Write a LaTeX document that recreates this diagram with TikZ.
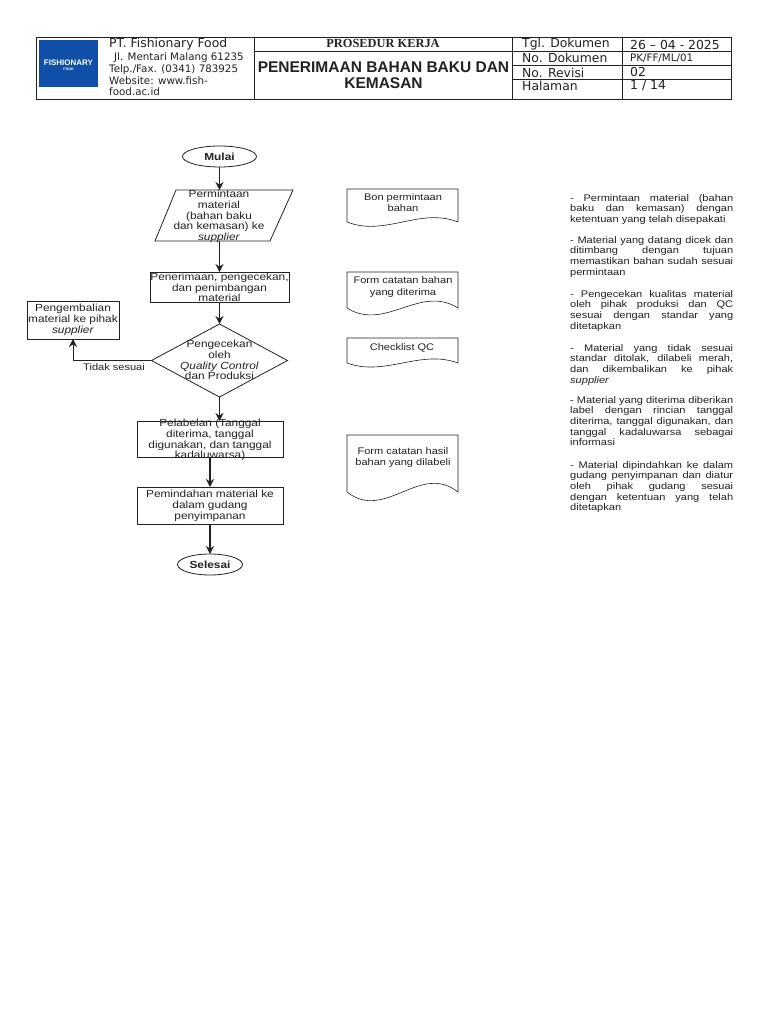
\documentclass[tikz,border=0pt]{standalone}
\usepackage{fontspec}
\usetikzlibrary{shapes.geometric,arrows.meta}
\setmainfont{Liberation Sans}
\newfontfamily\flowfam[FakeStretch=1.15]{Liberation Sans}
\newfontfamily\dejafam{DejaVu Sans}
\newfontfamily\serfam{Liberation Serif}
\newcommand\flowfont{\flowfam\fontsize{10.3}{10.7}\selectfont}
\newcommand\docfont{\flowfam\fontsize{9.6}{11.3}\selectfont}
\newcommand\sidefont{\flowfam\fontsize{9.6}{10.7}\selectfont\tolerance=10000\hbadness=10000 }
\newcommand\headA{\dejafam\fontsize{12.4}{12.4}\selectfont}
\newcommand\headB{\dejafam\fontsize{10.3}{12}\selectfont}
\definecolor{ink}{HTML}{222222}
\definecolor{logoblue}{HTML}{0F4FA8}
\tikzset{
  hline/.style={draw=ink,line width=0.8pt},
  shapebox/.style={draw=ink,line width=0.8pt,inner sep=0pt,outer sep=0pt},
  flowtext/.style={font=\flowfont,text=ink,align=center,inner sep=0pt},
  doctext/.style={font=\docfont,text=ink,align=center,inner sep=0pt},
  sidetext/.style={font=\sidefont,text=ink,align=justify,text width=163pt,inner sep=0pt,anchor=north west},
  flowarrow/.style={draw=ink,line width=0.9pt,-{Stealth[length=8pt,width=8pt]}},
  heavyarrow/.style={flowarrow,line width=1.2pt},
  docline/.style={draw=ink,line width=0.6pt},
  heada/.style={font=\headA,text=ink,inner sep=0pt,anchor=west},
  headb/.style={font=\headB,text=ink,inner sep=0pt,anchor=west},
}
\newcommand\docpath[3]{\path[docline] (347,#2) -- (347,#1) -- (458,#1) -- (458,#2)
  .. controls (420,#2-#3) and (385,#2+#3) .. (347,#2);}
\begin{document}
\begin{tikzpicture}[x=1pt,y=-1pt]
\useasboundingbox (0,0) rectangle (768,1024);
\fill[white] (0,0) rectangle (768,1024);
% header
\draw[hline] (36,37) rectangle (731,99);
\draw[hline] (254,37) -- (254,99);
\draw[hline] (512,37) -- (512,99);
\draw[hline] (622,37) -- (622,99);
\draw[hline] (254,51) -- (512,51);
\draw[hline] (512,51) -- (731,51);
\draw[hline] (512,65) -- (731,65);
\draw[hline] (512,79) -- (731,79);
\node[fill=logoblue,minimum width=59pt,minimum height=47pt,inner sep=0pt] (logo) at (68.5,63.5) {};
\node[font=\fontsize{8}{8}\selectfont\bfseries,text=white,inner sep=0pt] (logoa) at (68.5,63) {FISHIONARY};
\node[font=\fontsize{3.5}{4}\selectfont\bfseries,text=white,inner sep=0pt] (logob) at (68.5,69.5) {FOOD};
\node[heada] (co) at (109,44.5) {PT. Fishionary Food};
\node[headb] (addr) at (114,57.5) {Jl. Mentari Malang 61235};
\node[headb] (tel) at (109,69.5) {Telp./Fax. (0341) 783925};
\node[headb] (web) at (109,81) {Website: www.fish-};
\node[headb] (web2) at (109,92) {food.ac.id};
\node[font=\serfam\fontsize{12.4}{13}\selectfont\bfseries,text=ink,inner sep=0pt] (pk) at (383,43) {PROSEDUR KERJA};
\node[font=\fontsize{15.5}{16.2}\selectfont\bfseries,text=ink,align=center,inner sep=0pt] (title) at (383.5,75) {PENERIMAAN BAHAN BAKU DAN\\KEMASAN};
\node[heada] (r1) at (522,44.5) {Tgl. Dokumen};
\node[heada] (r2) at (522,58) {No. Dokumen};
\node[heada] (r3) at (522,72.5) {No. Revisi};
\node[heada] (r4) at (522,86) {Halaman};
\node[heada] (v1) at (630,44.5) {26 – 04 - 2025};
\node[headb] (v2) at (630,58.5) {PK/FF/ML/01};
\node[heada] (v3) at (630,72) {02};
\node[heada] (v4) at (630,86) {1 / 14};
% flow shapes
\node[shapebox,ellipse,minimum width=74pt,minimum height=21pt] (mulai) at (219.5,156.5) {};
\draw[hline] (176,190) -- (293,190) -- (270,241) -- (155,241) -- cycle;
\coordinate (reqtop) at (219.5,190);
\coordinate (reqbot) at (219.5,241);
\node[shapebox,minimum width=139pt,minimum height=30pt] (recv) at (219.5,287) {};
\node[shapebox,diamond,minimum width=136pt,minimum height=73pt] (qc) at (219.5,360.5) {};
\node[shapebox,minimum width=92pt,minimum height=38pt] (ret) at (73,320) {};
\node[shapebox,minimum width=146pt,minimum height=36pt] (lab) at (210,439) {};
\node[shapebox,minimum width=146pt,minimum height=37pt] (mov) at (210,505.5) {};
\node[shapebox,ellipse,minimum width=65pt,minimum height=21pt] (end) at (210,564.5) {};
% flow text
\node[flowtext,font=\flowfont\bfseries] (tm) at (219.5,156.5) {Mulai};
\node[flowtext] (treq) at (219,216.5) {Permintaan\\material\\(bahan baku\\dan kemasan) ke\\\textit{supplier}};
\node[flowtext] (trecv) at (219.5,287.5) {Penerimaan, pengecekan,\\dan penimbangan\\material};
\node[flowtext] (tqc) at (219.5,360) {Pengecekan\\oleh\\\textit{Quality Control}\\dan Produksi};
\node[flowtext] (tret) at (73,320) {Pengembalian\\material ke pihak\\\textit{supplier}};
\node[flowtext] (tlab) at (210,440) {Pelabelan (Tanggal\\diterima, tanggal\\digunakan, dan tanggal\\kadaluwarsa)};
\node[flowtext] (tmov) at (210,506) {Pemindahan material ke\\dalam gudang\\penyimpanan};
\node[flowtext,font=\flowfont\bfseries] (te) at (210,564.5) {Selesai};
\node[doctext] (ts) at (114,367) {Tidak sesuai};
% connectors
\draw[flowarrow] (mulai.south) -- (reqtop);
\draw[flowarrow] (reqbot) -- (recv.north);
\draw[flowarrow] (recv.south) -- (qc.north);
\draw[flowarrow] (qc.west) -| (ret.south);
\draw[flowarrow] (qc.south) -- (qc.south |- lab.north);
\draw[heavyarrow] (lab.south) -- (mov.north);
\draw[heavyarrow] (mov.south) -- (end.north);
% documents
\docpath{189}{222}{15}
\docpath{272}{308}{24}
\docpath{338}{363}{14}
\docpath{435}{492}{30}
\node[doctext] (d1) at (403,202.5) {Bon permintaan\\bahan};
\node[doctext] (d2) at (403,287) {Form catatan bahan\\yang diterima};
\node[doctext] (d3) at (402,348) {Checklist QC};
\node[doctext] (d4) at (403,457.5) {Form catatan hasil\\bahan yang dilabeli};
% side notes
\node[sidetext] (s1) at (570,194) {- Permintaan material (bahan\linebreak baku dan kemasan) dengan\linebreak ketentuan yang telah disepakati};
\node[sidetext] (s2) at (570,236) {- Material yang datang dicek dan\linebreak ditimbang dengan tujuan\linebreak memastikan bahan sudah sesuai\linebreak permintaan};
\node[sidetext] (s3) at (570,290) {- Pengecekan kualitas material\linebreak oleh pihak produksi dan QC\linebreak sesuai dengan standar yang\linebreak ditetapkan};
\node[sidetext] (s4) at (570,344) {- Material yang tidak sesuai\linebreak standar ditolak, dilabeli merah,\linebreak dan dikembalikan ke pihak\linebreak \textit{supplier}};
\node[sidetext] (s5) at (570,396) {- Material yang diterima diberikan\linebreak label dengan rincian tanggal\linebreak diterima, tanggal digunakan, dan\linebreak tanggal kadaluwarsa sebagai\linebreak informasi};
\node[sidetext] (s6) at (570,461) {- Material dipindahkan ke dalam\linebreak gudang penyimpanan dan diatur\linebreak oleh pihak gudang sesuai\linebreak dengan ketentuan yang telah\linebreak ditetapkan};
\end{tikzpicture}
\end{document}
